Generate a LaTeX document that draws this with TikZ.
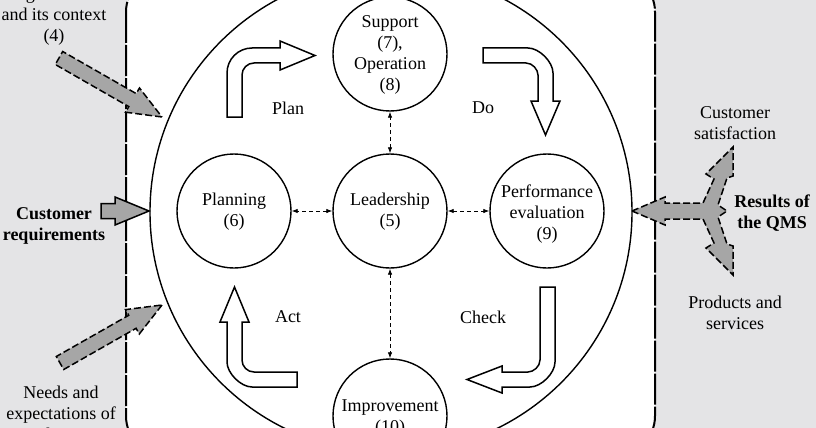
\documentclass[tikz,border=0pt]{standalone}
\usepackage{fontspec}
\setmainfont{Liberation Serif}
\usetikzlibrary{arrows.meta,calc}
\definecolor{panel}{RGB}{228,228,230}
\definecolor{arrgray}{RGB}{166,166,166}
\begin{document}
\begin{tikzpicture}[x=1pt,y=-1pt,
  txt/.style={font=\fontsize{18}{21}\selectfont, align=center, inner sep=0pt},
  boldtxt/.style={font=\fontsize{18}{21}\selectfont\bfseries, align=center, inner sep=0pt},
  proc/.style={circle, draw, line width=1.4pt, minimum size=114pt, inner sep=0pt},
  link/.style={line width=0.8pt, dash pattern=on 4pt off 3pt,
     {Latex[length=6pt,width=4.5pt]}-{Latex[length=6pt,width=4.5pt]}},
  cyc/.style={draw, line width=1.5pt, fill=white, line join=miter},
  inarr/.style={draw, line width=1.5pt, fill=arrgray, line join=miter},
  dashedge/.style={dash pattern=on 7pt off 3pt},
]
\useasboundingbox (0,0) rectangle (816,428);
\fill[panel] (0,0) rectangle (816,428);
\draw[line width=2pt, fill=white, rounded corners=40pt, dash pattern=on 31pt off 2pt]
  (126,-28) rectangle (655,456);

% big circle
\node[circle, draw, line width=1.4pt, minimum size=482pt, inner sep=0pt] (outer) at (391,212) {};

% process circles
\node[proc] (lead) at (390,211) {};
\node[proc] (plan) at (234,211) {};
\node[proc] (perf) at (547,211) {};
\node[proc] (supp) at (390,54) {};
\node[proc] (impr) at (390,416) {};

\node[txt] (leadt) at (390,211.5) {Leadership\\(5)};
\node[txt] (plant) at (234,211.5) {Planning\\(6)};
\node[txt] (perft) at (547,214.5) {Performance\\evaluation\\(9)};
\node[txt] (suppt) at (390,55) {Support\\(7),\\Operation\\(8)};
\node[txt] (imprt) at (390,418) {Improvement\\(10)};

% dashed links
\draw[link] (lead) -- (plan);
\draw[link] (lead) -- (perf);
\draw[link] (lead) -- (supp);
\draw[link] (lead) -- (impr);

% PDCA block arrows
\draw[cyc] (227,117) -- (227,73) .. controls (227,59.2) and (238.2,48) .. (252,48)
  -- (280,48) -- (280,41) -- (315,55.5) -- (280,70) -- (280,63) -- (254,63)
  .. controls (247.4,63) and (242,68.4) .. (242,75) -- (242,117) -- cycle;
\draw[cyc] (483,48) -- (528,48) .. controls (539.2,48) and (553,61.8) .. (553,73)
  -- (553,101) -- (560,101) -- (545.5,135) -- (531,101) -- (538,101) -- (538,75)
  .. controls (538,69.6) and (532.6,63) .. (526,63) -- (483,63) -- cycle;
\draw[cyc] (540,287) -- (555,287) -- (555,362) .. controls (555,373.2) and (541.2,387) .. (530,387)
  -- (502,387) -- (502,393) -- (467,379.5) -- (502,366) -- (502,372) -- (528,372)
  .. controls (533.4,372) and (540,366.6) .. (540,360) -- cycle;
\draw[cyc] (297,387) -- (252,387) .. controls (240.8,387) and (227,373.2) .. (227,362)
  -- (227,322) -- (220,322) -- (234.5,287) -- (249,322) -- (242,322) -- (242,360)
  .. controls (242,366.6) and (247.4,372) .. (254,372) -- (297,372) -- cycle;

\node[txt] (plnl) at (288,108) {Plan};
\node[txt] (dol) at (483,108) {Do};
\node[txt] (actl) at (288,317) {Act};
\node[txt] (chkl) at (483,317) {Check};

% input arrows (left)
\draw[inarr, dashedge] (162,117) -- (125.5,112.2) -- (128.8,106.6) -- (55.3,64.5)
  -- (62.7,51.5) -- (136.2,93.6) -- (139.5,88.0) -- cycle;
\draw[inarr, dashedge] (162,305) -- (139.3,334.0) -- (136.1,328.3) -- (63.7,369.5)
  -- (56.3,356.5) -- (128.7,315.3) -- (125.5,309.6) -- cycle;
\draw[inarr] (149,211) -- (115,225) -- (115,218.5) -- (101,218.5) -- (101,203.5)
  -- (115,203.5) -- (115,197) -- cycle;

% output arrow (right)
\draw[inarr, dashedge] (632,211) -- (665,197) -- (665,203) -- (703,203) -- (714,179)
  -- (706,174) -- (733,147) -- (733,176) -- (727,178) -- (718,205) -- (727,211)
  -- (718,217) -- (727,244) -- (733,246) -- (733,275) -- (706,248) -- (714,243)
  -- (703,219) -- (665,219) -- (665,225) -- cycle;

% side texts
\node[txt] (org) at (54,16) {Organization\\and its context\\(4)};
\node[boldtxt] (creq) at (54,225.5) {Customer\\requirements};
\node[txt] (needs) at (61,413) {Needs and\\expectations of\\relevant};
\node[txt] (csat) at (735,123.5) {Customer\\satisfaction};
\node[boldtxt] (res) at (772,213.5) {Results of\\the QMS};
\node[txt] (prod) at (735,312.5) {Products and\\services};
\end{tikzpicture}
\end{document}
